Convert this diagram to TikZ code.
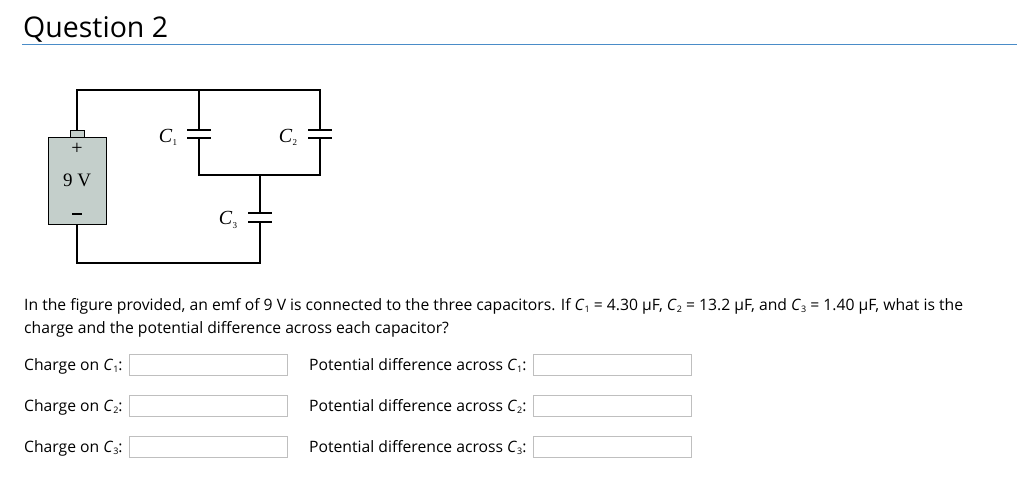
\documentclass[tikz,border=0pt]{standalone}
\usepackage{fontspec}
\setmainfont{Open Sans}
\newfontfamily\serifc{Liberation Serif}
\newcommand{\cc}[1]{\textit{C}\raisebox{-0.25ex}{\small #1}}
\newcommand{\cs}[1]{{\serifc\textit{C}\raisebox{-0.35ex}{\small #1}}}
\definecolor{bat}{HTML}{C4CFCB}
\definecolor{rule}{HTML}{4A8CC8}
\begin{document}
\begin{tikzpicture}[x=1pt,y=-1pt,
  wire/.style={line width=1.8pt,line join=miter},
  plate/.style={line width=1.8pt},
  txt/.style={anchor=base west,inner sep=0pt,font=\fontsize{15.7}{18}\selectfont},
  ibox/.style={draw=black!25,line width=0.6pt,minimum width=158pt,minimum height=21pt,anchor=west,inner sep=0pt}]
\useasboundingbox (0,0) rectangle (1024,499);
\node[anchor=base west,inner sep=0pt,font=\fontsize{28.5}{32}\selectfont] (title) at (23,37) {Question 2};
\draw[rule,line width=0.8pt] (22,44.5) -- (1017,44.5);
% circuit
\coordinate (tl) at (77,90); \coordinate (t1) at (199,90); \coordinate (t2) at (320,90);
\coordinate (m1) at (199,175); \coordinate (m3) at (260,175); \coordinate (m2) at (320,175);
\coordinate (bl) at (77,263); \coordinate (b3) at (260,263);
\draw[wire] (77,130) -- (tl) -- (t2) -- (320,130);
\draw[wire] (t1) -- (199,130);
\draw[wire] (199,138) -- (m1) -- (m2) -- (320,138);
\draw[wire] (m3) -- (260,213);
\draw[wire] (260,222) -- (b3) -- (bl) -- (77,224);
\foreach \x/\y in {199/130,199/138,320/130,320/138,260/213,260/222}
  \draw[plate] (\x-12,\y) -- (\x+12,\y);
\draw[fill=bat,line width=0.8pt] (70,130) rectangle (84,137);
\draw[fill=bat,line width=0.8pt] (48,137) rectangle (106,224);
\node[font=\serifc\fontsize{20}{20}\selectfont] (plus) at (77,149) {+};
\node[font=\serifc\fontsize{19}{19}\selectfont] (v) at (77,180) {9 V};
\draw[line width=1.8pt] (72,214) -- (82,214);
\node[font=\fontsize{20}{20}\selectfont] (c1) at (168,137) {\cs{1}};
\node[font=\fontsize{20}{20}\selectfont] (c2) at (288,137) {\cs{2}};
\node[font=\fontsize{20}{20}\selectfont] (c3) at (228,220) {\cs{3}};
% text
\node[txt] (q1) at (24,310) {In the figure provided, an emf of 9 V is connected to the three capacitors. If \cc{1} = 4.30 μF, \cc{2} = 13.2 μF, and \cc{3} = 1.40 μF, what is the};
\node[txt] (q2) at (24,333) {charge and the potential difference across each capacitor?};
\foreach \i/\y in {1/365,2/406,3/447}{
  \node[txt] (ch\i) at (24,\y+5) {Charge on \cc{\i}:};
  \node[ibox] (bq\i) at (129,\y) {};
  \node[txt] (pd\i) at (309,\y+5) {Potential difference across \cc{\i}:};
  \node[ibox] (bv\i) at (533,\y) {};
}
\end{tikzpicture}
\end{document}
